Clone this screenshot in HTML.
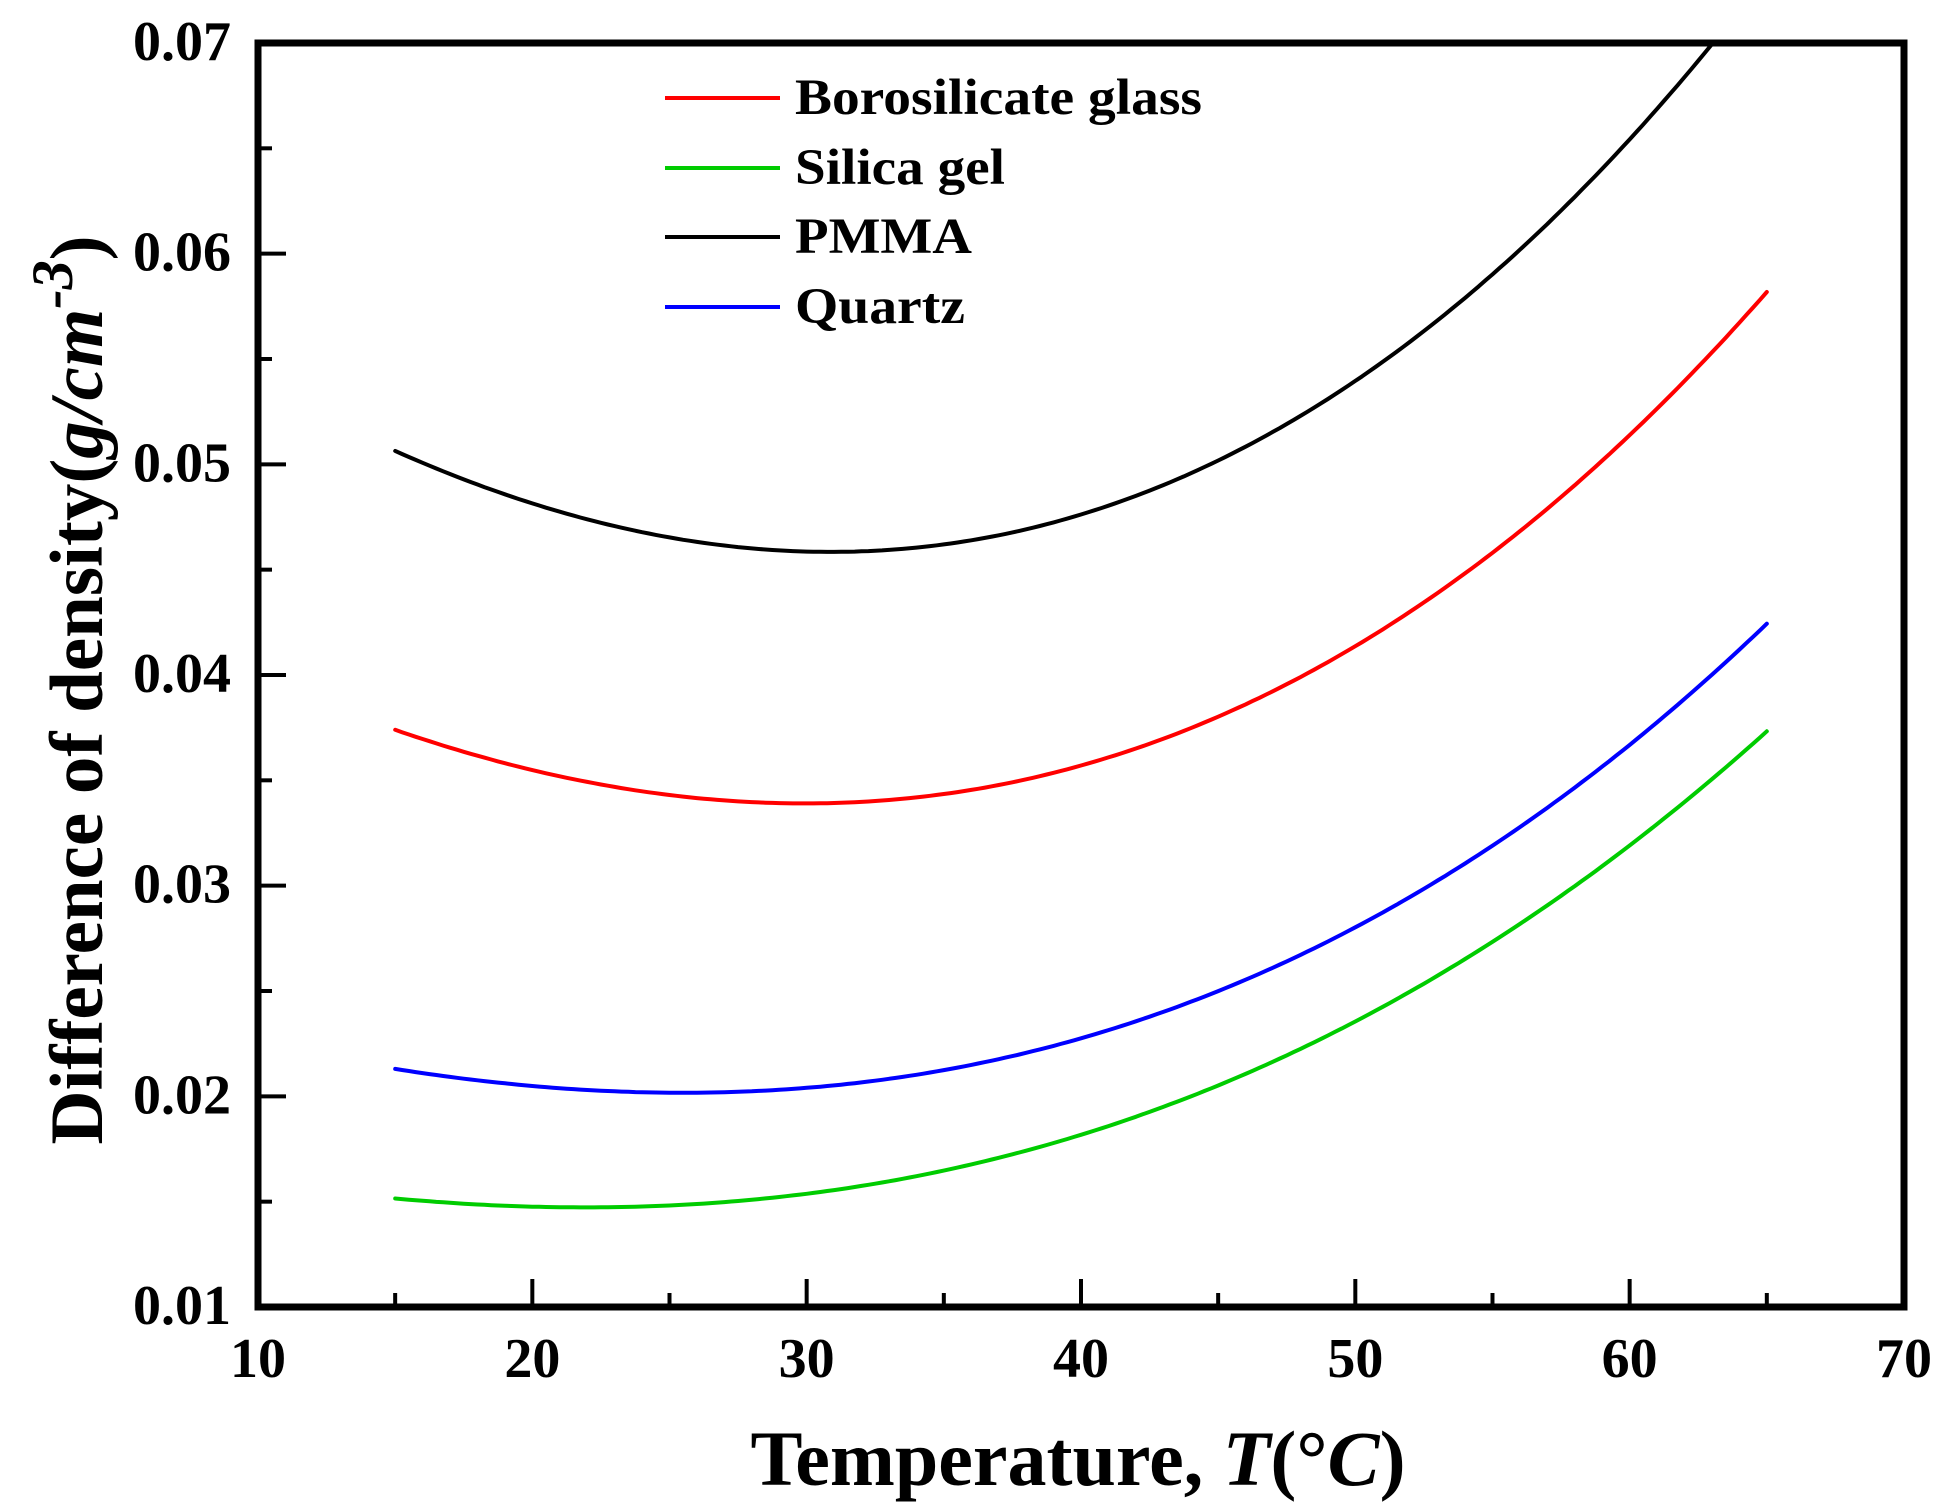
<!DOCTYPE html>
<html><head><meta charset="utf-8"><style>
html,body{margin:0;padding:0;background:#fff;}
svg{display:block;}
text{font-family:"Liberation Serif",serif;font-weight:bold;fill:#000;}
</style></head><body>
<svg id="s" width="1950" height="1511" viewBox="0 0 1950 1511" xmlns="http://www.w3.org/2000/svg">
<g id="curves" fill="none" stroke-width="4" stroke-linejoin="round" stroke-linecap="round"></g>
<rect x="258" y="43" width="1646" height="1264" fill="none" stroke="#000" stroke-width="7"/>
<g id="ticks" stroke="#000" stroke-width="4"></g>
<g font-size="56" text-anchor="end" id="yl"></g>
<g font-size="56" text-anchor="middle" id="xl"></g>
<g font-size="51">
<line x1="665" y1="98" x2="780" y2="98" stroke="#f00" stroke-width="4"/>
<text x="795" y="114" textLength="407" lengthAdjust="spacingAndGlyphs">Borosilicate glass</text>
<line x1="665" y1="168" x2="780" y2="168" stroke="#0c0" stroke-width="4"/>
<text x="795" y="184" textLength="210" lengthAdjust="spacingAndGlyphs">Silica gel</text>
<line x1="665" y1="237" x2="780" y2="237" stroke="#000" stroke-width="4"/>
<text x="795" y="253" textLength="177" lengthAdjust="spacingAndGlyphs">PMMA</text>
<line x1="665" y1="307" x2="780" y2="307" stroke="#00f" stroke-width="4"/>
<text x="795" y="323" textLength="170" lengthAdjust="spacingAndGlyphs">Quartz</text>
</g>
<text x="1078" y="1485" font-size="78" text-anchor="middle">Temperature, <tspan font-style="italic">T</tspan>(°<tspan font-style="italic">C</tspan>)</text>
<text transform="translate(102,690) rotate(-90)" font-size="75" text-anchor="middle">Difference of density(<tspan font-style="italic">g/cm</tspan><tspan font-style="italic" dy="-30" font-size="58">-3</tspan><tspan dy="30">)</tspan></text>
</svg>
<script>
var X=function(t){return 258+(t-10)*27.433;},Y=function(v){return 1307-(v-0.01)*21067;};
var ns="http://www.w3.org/2000/svg";
function el(tag,a,p){var e=document.createElementNS(ns,tag);for(var k in a)e.setAttribute(k,a[k]);p.appendChild(e);return e;}
function fit(P){ // least squares cubic
 var A=[[0,0,0,0],[0,0,0,0],[0,0,0,0],[0,0,0,0]],b=[0,0,0,0];
 P.forEach(function(p){var t=(p[0]-40)/25,v=[1,t,t*t,t*t*t];for(var i=0;i<4;i++){b[i]+=v[i]*p[1];for(var j=0;j<4;j++)A[i][j]+=v[i]*v[j];}});
 for(var i=0;i<4;i++){for(var k=i+1;k<4;k++){var f=A[k][i]/A[i][i];for(var j=i;j<4;j++)A[k][j]-=f*A[i][j];b[k]-=f*b[i];}}
 var c=[0,0,0,0];for(var i=3;i>=0;i--){var s=b[i];for(var j=i+1;j<4;j++)s-=A[i][j]*c[j];c[i]=s/A[i][i];}
 return function(T){var t=(T-40)/25;return c[0]+c[1]*t+c[2]*t*t+c[3]*t*t*t;};
}
var S=[
["#000",[[15,.0506],[20,.0482],[25,.0466],[30.5,.0457],[35,.0462],[40.5,.0479],[45,.0502],[50,.0538],[54,.0581],[59.8,.0650],[63,.0700]]],
["#f00",[[15,.0373],[20,.0356],[25,.0344],[29.5,.0339],[35,.0342],[40,.0357],[45,.0380],[50,.0414],[55,.0458],[60,.0515],[65,.0581]]],
["#00f",[[15,.0213],[20,.0205],[25,.0202],[30,.0204],[35,.0211],[40,.0228],[45,.0251],[50,.0281],[55,.0318],[60,.0366],[65,.0425]]],
["#0c0",[[15,.0151],[20,.0148],[25,.0149],[30,.0154],[35,.0164],[40,.0181],[45,.0205],[50,.0236],[55,.0274],[60,.0319],[65,.0373]]]];
var g=document.getElementById("curves");
S.forEach(function(s){
 var f=fit(s[1]),pts=[];
 for(var t=15;t<=65.001;t+=0.25){var v=f(t);if(v>0.0700){var tt=t-0.25;while(f(tt)<0.07)tt+=0.01;pts.push(X(tt).toFixed(1)+","+Y(0.07).toFixed(1));break;}pts.push(X(t).toFixed(1)+","+Y(v).toFixed(1));}
 el("polyline",{points:pts.join(" "),stroke:s[0]},g);
});
var tk=document.getElementById("ticks");
for(var t=15;t<70;t+=5){var maj=t%10==0;el("line",{x1:X(t),x2:X(t),y1:1307,y2:1307-(maj?28:14)},tk);}
for(var i=0;i<12;i++){var v=0.015+i*0.005,maj=i%2==1;el("line",{x1:258,x2:258+(maj?28:14),y1:Y(v),y2:Y(v)},tk);}
var yl=document.getElementById("yl");
for(var i=1;i<=7;i++){var e=el("text",{x:231,y:Y(i/100)+17},yl);e.textContent="0.0"+i;}
var xl=document.getElementById("xl");
for(var t=10;t<=70;t+=10){var e=el("text",{x:X(t),y:1377},xl);e.textContent=t;}
</script>
</body></html>
